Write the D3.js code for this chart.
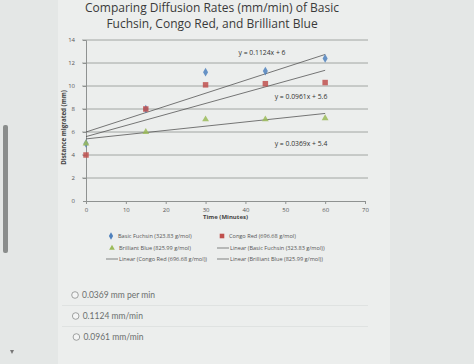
<!DOCTYPE html>
<html><head><meta charset="utf-8">
<script src="https://cdn.jsdelivr.net/npm/d3@7"></script>
<style>body{margin:0;background:#e4e7e6;}svg{display:block;}</style>
</head><body>
<svg id="c" width="474" height="364"></svg>
<script>
const times = [0, 15, 30, 45, 60];
const fuchsin = [5, 8, 11.2, 11.3, 12.4];
const congo = [4, 8, 10.1, 10.2, 10.3];
const brilliant = [5, 6, 7.1, 7.1, 7.2];
const seriesNames = ["Basic Fuchsin (323.83 g/mol)", "Congo Red (696.68 g/mol)", "Brilliant Blue (825.99 g/mol)"];
const slopes = [0.1124, 0.0961, 0.0369];
const intercepts = [6, 5.6, 5.4];
const equations = ["y = 0.1124x + 6", "y = 0.0961x + 5.6", "y = 0.0369x + 5.4"];
const xTicks = [0, 10, 20, 30, 40, 50, 60, 70];
const yTicks = [0, 2, 4, 6, 8, 10, 12, 14];
const options = ["0.0369 mm per min", "0.1124 mm/min", "0.0961 mm/min"];

const svg = d3.select("#c");
const font = "'Open Sans', 'Liberation Sans', sans-serif";
// page panel
svg.append("rect").attr("x", 58).attr("y", 0).attr("width", 332).attr("height", 364).attr("fill", "#eceeed");
svg.append("rect").attr("x", 3).attr("y", 125).attr("width", 5).attr("height", 128).attr("rx", 2).attr("fill", "#8a8d8c");

const x = d3.scaleLinear().domain([0, 70]).range([86, 365]);
const y = d3.scaleLinear().domain([0, 14]).range([201, 40]);

// title
svg.append("text").attr("x", 212).attr("y", 12).attr("text-anchor", "middle")
  .attr("font-family", font).attr("font-size", 12).attr("fill", "#3a3a3a").text("Comparing  Diffusion Rates (mm/min) of Basic");
svg.append("text").attr("x", 212).attr("y", 28).attr("text-anchor", "middle")
  .attr("font-family", font).attr("font-size", 12).attr("fill", "#3a3a3a").text("Fuchsin, Congo Red, and Brilliant Blue");

// gridlines
svg.append("g").selectAll("line").data(yTicks.slice(1)).join("line")
  .attr("x1", x(0) - 4).attr("x2", 368).attr("y1", d => y(d)).attr("y2", d => y(d))
  .attr("stroke", "#8f9291").attr("stroke-width", 0.8);

// axes
const xAxis = d3.axisBottom(x).tickValues(xTicks).tickSize(3).tickPadding(4);
const gx = svg.append("g").attr("transform", `translate(0,${y(0)})`).call(xAxis);
const yAxis = d3.axisLeft(y).tickValues(yTicks).tickSize(3).tickPadding(8);
const gy = svg.append("g").attr("transform", `translate(${x(0)},0)`).call(yAxis);
[gx, gy].forEach(g => {
  g.selectAll("path,line").attr("stroke", "#8f9291");
  g.selectAll("text").attr("font-family", font).attr("font-size", 6).attr("fill", "#555");
});

svg.append("text").attr("x", x(35)).attr("y", 219).attr("text-anchor", "middle")
  .attr("font-family", font).attr("font-size", 6).attr("font-weight", "bold").attr("fill", "#444").text("Time (Minutes)");
svg.append("text").attr("transform", `translate(66,${y(6.4)}) rotate(-90)`).attr("text-anchor", "middle")
  .attr("font-family", font).attr("font-size", 6.2).attr("font-weight", "bold").attr("fill", "#444").text("Distance migrated (mm)");

// trendlines
slopes.forEach((m, i) => {
  svg.append("line").attr("x1", x(0)).attr("x2", x(60))
    .attr("y1", y(intercepts[i])).attr("y2", y(intercepts[i] + m * 60))
    .attr("stroke", "#555").attr("stroke-width", 0.8);
});

const colors = ["#4f81bd", "#c0504d", "#9bbb59"];
const data = [fuchsin, congo, brilliant];
const symbols = [d3.symbolDiamond, d3.symbolSquare, d3.symbolTriangle];
const sizes = [22, 30, 20];
// draw order: fuchsin, brilliant, congo
[0, 2, 1].forEach(i => {
  svg.append("g").selectAll("path").data(times).join("path")
    .attr("transform", (t, j) => `translate(${x(t)},${y(data[i][j])})`)
    .attr("d", d3.symbol(symbols[i], sizes[i])())
    .attr("fill", colors[i]).attr("opacity", 0.85);
});

// equation labels
const eqPos = [[262, 55], [301, 99], [301, 146]];
equations.forEach((e, i) => {
  svg.append("text").attr("x", eqPos[i][0]).attr("y", eqPos[i][1]).attr("text-anchor", "middle")
    .attr("font-family", font).attr("font-size", 6.8).attr("fill", "#333").text(e);
});

// legend
const lg = svg.append("g").attr("font-family", font).attr("font-size", 5.6).attr("fill", "#555");
const legendItems = [
  {type: "sym", i: 0, x: 111, y: 236, label: seriesNames[0]},
  {type: "sym", i: 1, x: 222, y: 236, label: seriesNames[1]},
  {type: "sym", i: 2, x: 112, y: 248, label: seriesNames[2]},
  {type: "line", x: 217, y: 248, label: "Linear (" + seriesNames[0] + ")"},
  {type: "line", x: 106, y: 259, label: "Linear (" + seriesNames[1] + ")"},
  {type: "line", x: 217, y: 259, label: "Linear (" + seriesNames[2] + ")"}
];
legendItems.forEach(it => {
  if (it.type === "sym") {
    lg.append("path").attr("transform", `translate(${it.x},${it.y})`)
      .attr("d", d3.symbol(symbols[it.i], sizes[it.i] * 0.7)()).attr("fill", colors[it.i]);
    lg.append("text").attr("x", it.x + 7).attr("y", it.y + 2).text(it.label);
  } else {
    lg.append("line").attr("x1", it.x).attr("x2", it.x + 12).attr("y1", it.y).attr("y2", it.y)
      .attr("stroke", "#555").attr("stroke-width", 0.7);
    lg.append("text").attr("x", it.x + 13).attr("y", it.y + 2).text(it.label);
  }
});

// answer options
options.forEach((o, i) => {
  const cy = 295 + i * 21;
  svg.append("circle").attr("cx", 75 + i * 0.7).attr("cy", cy).attr("r", 3.3)
    .attr("fill", "#f4f5f5").attr("stroke", "#8a8d8c").attr("stroke-width", 0.8);
  svg.append("text").attr("x", 82 + i * 0.7).attr("y", cy + 3).attr("font-family", "Lato, sans-serif")
    .attr("font-size", 8.5).attr("fill", "#6b6e6d").text(o);
  if (i < 2) svg.append("line").attr("x1", 62).attr("x2", 368).attr("y1", cy + 10.5).attr("y2", cy + 10.5)
    .attr("stroke", "#dcdedd").attr("stroke-width", 0.8);
});
svg.append("path").attr("d", "M10,350 L14,350 L12,354 Z").attr("fill", "#777");
</script>
</body></html>
